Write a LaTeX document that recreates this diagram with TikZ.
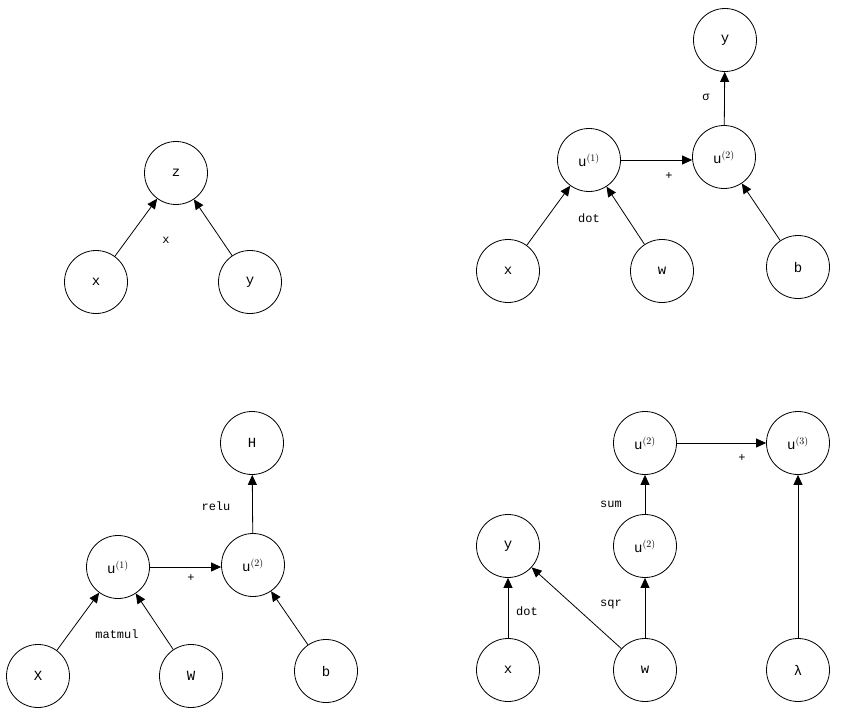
\documentclass[tikz,border=0pt]{standalone}
\usepackage{fontspec}
\setmainfont{Liberation Mono}
\usetikzlibrary{arrows.meta}
\begin{document}
\begin{tikzpicture}[x=1pt,y=-1pt,
  nd/.style={circle,draw,line width=0.8pt,minimum size=63pt,inner sep=0pt,font=\fontsize{14}{16}\selectfont},
  ar/.style={-{Triangle[length=10pt,width=9pt]},line width=0.8pt},
  lb/.style={font=\fontsize{12}{14}\selectfont}]
\useasboundingbox (0,0) rectangle (844,717);
% top-left
\node[nd] (z1) at (176,173) {z};
\node[nd] (x1) at (96,282) {x};
\node[nd] (y1) at (250,282) {y};
\draw[ar] (x1) -- (z1);
\draw[ar] (y1) -- (z1);
\node[lb] (l1) at (166,240) {x};
% top-right
\node[nd] (y2) at (725,40) {y};
\node[nd] (ua2) at (589,160) {u$^{(1)}$};
\node[nd] (ub2) at (724,157) {u$^{(2)}$};
\node[nd] (x2) at (508,271) {x};
\node[nd] (w2) at (662,271) {w};
\node[nd] (b2) at (798,267) {b};
\draw[ar] (x2) -- (ua2);
\draw[ar] (w2) -- (ua2);
\draw[ar] (ua2.east) -- (ub2.west |- ua2.east);
\draw[ar] (b2) -- (ub2);
\draw[ar] (ub2) -- (y2);
\node[lb] (l2a) at (706,97) {σ};
\node[lb] (l2b) at (669,176) {+};
\node[lb] (l2c) at (589,218) {dot};
% bottom-left
\node[nd] (H3) at (252,443) {H};
\node[nd] (ua3) at (118,567) {u$^{(1)}$};
\node[nd] (ub3) at (253,565) {u$^{(2)}$};
\node[nd] (X3) at (38,676) {X};
\node[nd] (W3) at (191,676) {W};
\node[nd] (b3) at (326,671) {b};
\draw[ar] (X3) -- (ua3);
\draw[ar] (W3) -- (ua3);
\draw[ar] (ua3.east) -- (ub3.west |- ua3.east);
\draw[ar] (b3) -- (ub3);
\draw[ar] (ub3) -- (H3);
\node[lb] (l3a) at (216,506) {relu};
\node[lb] (l3b) at (191,578) {+};
\node[lb] (l3c) at (117,634) {matmul};
% bottom-right
\node[nd] (ut4) at (645,443) {u$^{(2)}$};
\node[nd] (u34) at (798,443) {u$^{(3)}$};
\node[nd] (y4) at (508,546) {y};
\node[nd] (um4) at (645,546) {u$^{(2)}$};
\node[nd] (x4) at (508,670) {x};
\node[nd] (w4) at (645,670) {w};
\node[nd] (la4) at (798,670) {λ};
\draw[ar] (x4) -- (y4);
\draw[ar] (w4) -- (y4);
\draw[ar] (w4) -- (um4);
\draw[ar] (um4) -- (ut4);
\draw[ar] (ut4) -- (u34);
\draw[ar] (la4) -- (u34);
\node[lb] (l4a) at (611,504) {sum};
\node[lb] (l4b) at (742,458) {+};
\node[lb] (l4c) at (527,611) {dot};
\node[lb] (l4d) at (611,605) {sqr};
\end{tikzpicture}
\end{document}
